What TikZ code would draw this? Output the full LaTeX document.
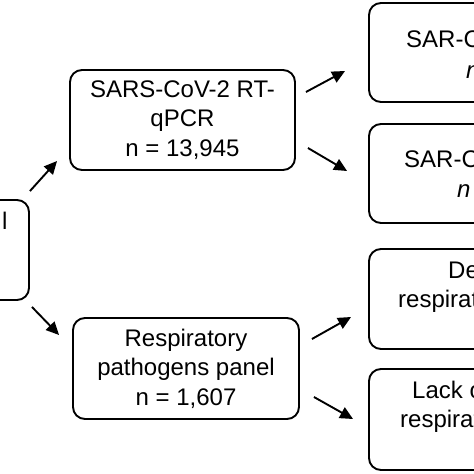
\documentclass[tikz,border=0pt]{standalone}
\usepackage{fontspec}
\setmainfont{Liberation Sans}
\usetikzlibrary{calc, positioning, arrows.meta}

\tikzset{
  box/.style={draw, rounded corners=12pt, line width=1.9pt, align=center, inner sep=0pt,
    font=\fontsize{24}{29.5}\selectfont},
  arr/.style={line width=1.9pt, -{Triangle[length=13pt,width=12pt]}},
  cut/.style={anchor=base west, inner sep=0pt, font=\fontsize{24}{29.5}\selectfont}
}

\begin{document}
\begin{tikzpicture}[x=1pt,y=-1pt]
    \useasboundingbox (0,0) rectangle (474,474);
    % first column, mostly outside the frame
    \node[box, minimum width=100pt, minimum height=100pt] (total) at (-21,250) {};
    \node[cut] (totaltxt) at (2,229) {l};
    % tests
    \node[box, minimum width=225pt, minimum height=100pt] (pcr) at (182.5,120)
        {SARS-CoV-2 RT-\\qPCR\\n = 13,945};
    \node[box, minimum width=226pt, minimum height=101pt] (panel) at (186,368.5)
        {Respiratory\\pathogens panel\\n = 1,607};
    % results, cut at the right edge
    \node[box, minimum width=225pt, minimum height=99pt] (pos) at (481.5,52.5) {};
    \node[box, minimum width=225pt, minimum height=99pt] (neg) at (481.5,173.5) {};
    \node[box, minimum width=225pt, minimum height=100pt] (det) at (481.5,299) {};
    \node[box, minimum width=225pt, minimum height=101pt] (lack) at (481.5,419.5) {};
    \node[cut] (postxt) at (406,47) {SAR-C};
    \node[cut] (posn) at (466,78) {\textit{n}};
    \node[cut] (negtxt) at (404,167) {SAR-C};
    \node[cut] (negn) at (457,197) {\textit{n}};
    \node[cut] (dettxt) at (448,278) {De};
    \node[cut] (detline) at (398,307) {respirat};
    \node[cut] (lacktxt) at (412,398) {Lack o};
    \node[cut] (lackline) at (400,427) {respirat};
    % arrows
    \draw[arr] ($(total.north east)+(0,-8)$) -- ($(pcr.west)+(-12,41)$);
    \draw[arr] ($(total.south east)+(2,6)$) -- ($(panel.west)+(-13,-33.5)$);
    \draw[arr] ($(pcr.east)+(10,-28)$) -- ($(pos.west)+(-23,18.5)$);
    \draw[arr] ($(pcr.east)+(12,28)$) -- ($(neg.west)+(-21,-2.5)$);
    \draw[arr] ($(panel.east)+(12,-29.5)$) -- ($(det.west)+(-17,18)$);
    \draw[arr] ($(panel.east)+(14,28.5)$) -- ($(lack.west)+(-15,-0.5)$);
\end{tikzpicture}
\end{document}
